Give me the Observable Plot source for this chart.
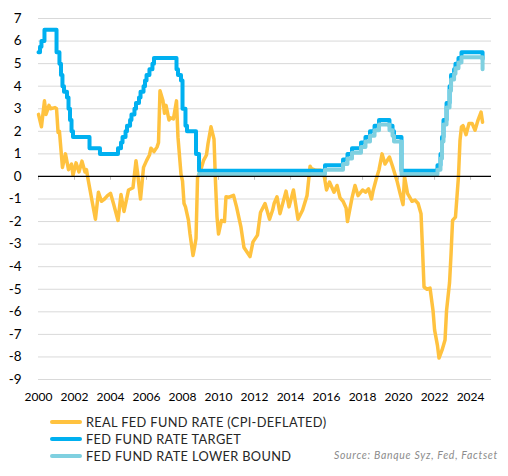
<!DOCTYPE html>
<html>
<head>
<meta charset="utf-8">
<script src="https://cdn.jsdelivr.net/npm/d3@7"></script>
<script src="https://cdn.jsdelivr.net/npm/@observablehq/plot@0.6"></script>
<style>
  html, body { margin: 0; padding: 0; background: #fff; }
  #wrap { position: relative; width: 508px; height: 476px; font-family: Lato, "Open Sans", sans-serif; }
  .leg { position: absolute; left: 50px; height: 16px; display: flex; align-items: center; font-size: 12.8px; letter-spacing: 0.35px; color: #262626; white-space: nowrap; }
  .leg .sw { width: 32px; height: 4px; border-radius: 2px; margin-right: 4px; }
  #src { position: absolute; right: 10px; top: 449px; font-size: 10.5px; letter-spacing: 0.7px; font-style: italic; color: #8c8c8c; white-space: nowrap; }
</style>
</head>
<body>
<div id="wrap"></div>
<script>
// ---- data ----
const realRate = [
  ["2000-01",2.75],["2000-03",2.2],["2000-05",3.35],["2000-06",2.75],["2000-08",3.15],["2000-09",3.0],["2000-12",3.05],
  ["2001-01",3.0],["2001-02",1.95],["2001-03",2.0],["2001-05",0.4],["2001-07",1.0],["2001-09",0.3],["2001-11",0.55],["2001-12",0.05],
  ["2002-02",0.6],["2002-04",0.2],["2002-06",0.68],["2002-08",0.2],["2002-09",0.3],["2002-10",-0.1],
  ["2003-01",-1.2],["2003-03",-1.9],["2003-05",-0.7],["2003-07",-1.1],["2003-09",-1.0],["2003-11",-0.85],
  ["2004-01",-0.75],["2004-03",-1.2],["2004-06",-1.95],["2004-08",-0.8],["2004-10",-1.55],
  ["2005-01",-0.6],["2005-04",-0.5],["2005-06",0.7],["2005-07",0.2],["2005-09",-1.0],["2005-11",0.4],
  ["2006-01",0.7],["2006-03",0.95],["2006-04",1.25],["2006-06",1.1],["2006-08",1.3],["2006-09",1.5],["2006-10",3.8],["2006-12",3.35],
  ["2007-01",2.8],["2007-02",3.15],["2007-04",2.5],["2007-05",2.6],["2007-07",2.55],["2007-09",3.35],["2007-10",1.74],["2007-12",0.1],
  ["2008-01",-0.2],["2008-02",-1.2],["2008-03",-1.35],["2008-05",-1.95],["2008-06",-2.55],["2008-08",-3.5],["2008-09",-3.15],["2008-10",-2.75],["2008-11",-0.05],
  ["2009-01",0.25],["2009-03",0.7],["2009-05",0.95],["2009-06",1.45],["2009-08",2.2],["2009-10",1.65],["2009-11",-0.3],["2009-12",-1.8],
  ["2010-01",-2.55],["2010-03",-1.95],["2010-05",-2.0],["2010-06",-0.9],["2010-08",-0.92],["2010-11",-0.84],
  ["2011-01",-1.35],["2011-04",-2.25],["2011-06",-3.15],["2011-08",-3.35],["2011-10",-3.55],["2011-12",-2.9],
  ["2012-03",-2.6],["2012-05",-1.6],["2012-08",-1.2],["2012-11",-1.9],
  ["2013-01",-1.5],["2013-02",-1.2],["2013-04",-0.9],["2013-06",-1.65],["2013-10",-0.65],["2013-12",-1.35],
  ["2014-03",-0.6],["2014-06",-1.9],["2014-09",-1.5],["2014-12",-0.85],
  ["2015-01",-0.2],["2015-02",0.45],["2015-03",0.35],["2015-06",0.27],["2015-09",0.27],["2015-11",0.2],
  ["2016-01",-0.6],["2016-03",-0.25],["2016-06",-0.7],["2016-08",-0.4],["2016-10",-0.95],["2016-12",-1.1],
  ["2017-02",-1.4],["2017-03",-2.0],["2017-06",-0.95],["2017-08",-0.4],["2017-10",-0.85],
  ["2018-01",-0.6],["2018-03",-0.7],["2018-05",-0.55],["2018-07",-1.0],["2018-08",-0.65],["2018-10",-0.15],["2018-12",0.3],
  ["2019-02",1.0],["2019-04",0.55],["2019-07",0.86],["2019-09",0.45],["2019-12",-0.2],
  ["2020-02",-0.75],["2020-04",-1.25],["2020-05",0.0],["2020-07",-0.75],["2020-10",-1.1],["2020-12",-1.05],
  ["2021-02",-1.2],["2021-04",-1.65],["2021-05",-3.2],["2021-06",-4.9],["2021-08",-5.0],["2021-10",-4.95],["2021-12",-5.95],
  ["2022-01",-6.8],["2022-03",-7.5],["2022-04",-8.05],["2022-06",-7.7],["2022-08",-7.25],["2022-09",-5.95],["2022-11",-4.7],["2022-12",-3.45],
  ["2023-01",-1.95],["2023-03",-1.8],["2023-05",0.0],["2023-06",1.6],["2023-07",2.2],["2023-08",2.25],["2023-10",1.85],["2023-12",2.35],
  ["2024-02",2.35],["2024-04",2.05],["2024-06",2.5],["2024-08",2.85],["2024-09",2.4]
];
const targetRate = [
  ["2000-01",5.5],["2000-02",5.75],["2000-03",6.0],["2000-05",6.5],
  ["2001-01",5.5],["2001-03",5.0],["2001-04",4.5],["2001-05",4.0],["2001-06",3.75],["2001-08",3.5],["2001-09",3.0],["2001-10",2.5],["2001-11",2.0],["2001-12",1.75],
  ["2002-11",1.25],["2003-06",1.0],
  ["2004-06",1.25],["2004-08",1.5],["2004-09",1.75],["2004-11",2.0],["2004-12",2.25],
  ["2005-02",2.5],["2005-03",2.75],["2005-05",3.0],["2005-06",3.25],["2005-08",3.5],["2005-09",3.75],["2005-11",4.0],["2005-12",4.25],
  ["2006-01",4.5],["2006-03",4.75],["2006-05",5.0],["2006-06",5.25],
  ["2007-09",4.75],["2007-10",4.5],["2007-12",4.25],
  ["2008-01",3.0],["2008-03",2.25],["2008-04",2.0],["2008-10",1.0],["2008-12",0.25],
  ["2015-12",0.5],["2016-12",0.75],["2017-03",1.0],["2017-06",1.25],["2017-12",1.5],
  ["2018-03",1.75],["2018-06",2.0],["2018-09",2.25],["2018-12",2.5],
  ["2019-07",2.25],["2019-09",2.0],["2019-10",1.75],["2020-03",0.25],
  ["2022-03",0.5],["2022-05",1.0],["2022-06",1.75],["2022-07",2.5],["2022-09",3.25],["2022-11",4.0],["2022-12",4.5],
  ["2023-02",4.75],["2023-03",5.0],["2023-05",5.25],["2023-07",5.5],["2024-09",5.2]
];
const lowerBound = [
  ["2008-12",0.1],
  ["2015-12",0.3],["2016-12",0.55],["2017-03",0.8],["2017-06",1.05],["2017-12",1.3],
  ["2018-03",1.55],["2018-06",1.8],["2018-09",2.05],["2018-12",2.3],
  ["2019-07",2.05],["2019-09",1.8],["2019-10",1.55],["2020-03",0.1],
  ["2022-03",0.3],["2022-05",0.8],["2022-06",1.55],["2022-07",2.3],["2022-09",3.05],["2022-11",3.8],["2022-12",4.3],
  ["2023-02",4.55],["2023-03",4.8],["2023-05",5.05],["2023-07",5.28],["2024-09",4.75]
];
const yTicks = [-9,-8,-7,-6,-5,-4,-3,-2,-1,0,1,2,3,4,5,6,7];
const xTickYears = [2000,2002,2004,2006,2008,2010,2012,2014,2016,2018,2020,2022,2024];
const seriesNames = ["REAL FED FUND RATE (CPI-DEFLATED)", "FED FUND RATE TARGET", "FED FUND RATE LOWER BOUND"];
const seriesColors = ["#FFC23F", "#00B0F0", "#7FD0E0"];

// ---- build ----
const parse = d3.utcParse("%Y-%m");
const toRows = arr => arr.map(([d, v]) => ({date: parse(d), value: v}));
const real = toRows(realRate), target = toRows(targetRate), lower = toRows(lowerBound);
const xTicks = xTickYears.map(y => new Date(Date.UTC(y, 0, 1)));

const chart = Plot.plot({
  width: 508,
  height: 410,
  marginLeft: 38,
  marginRight: 17,
  marginTop: 18,
  marginBottom: 31,
  style: {fontFamily: "Lato, 'Open Sans', sans-serif", background: "white"},
  x: {type: "utc", domain: [new Date(Date.UTC(2000,0,1)), new Date(Date.UTC(2025,2,1))]},
  y: {domain: [-9, 7]},
  marks: [
    Plot.gridY(yTicks, {stroke: "#d9d9d9", strokeOpacity: 1, strokeWidth: 1}),
    Plot.ruleX(xTicks, {y1: 0, y2: -0.17, stroke: "#bfbfbf", strokeWidth: 1}),
    Plot.axisY({ticks: yTicks, tickSize: 0, tickPadding: 17, fontSize: 13.5, fill: "#000", tickFormat: d => String(d), label: null}),
    Plot.axisX({ticks: xTicks, tickSize: 0, tickPadding: 13, fontSize: 12, fill: "#000", tickFormat: d3.utcFormat("%Y"), label: null}),
    Plot.line(real, {x: "date", y: "value", stroke: seriesColors[0], strokeWidth: 3.5, strokeLinejoin: "round"}),
    Plot.line(target, {x: "date", y: "value", stroke: seriesColors[1], strokeWidth: 4, curve: "step-after", strokeLinejoin: "round"}),
    Plot.line(lower, {x: "date", y: "value", stroke: seriesColors[2], strokeWidth: 4, curve: "step-after", strokeLinejoin: "round"}),
    Plot.ruleY([0], {stroke: "#000", strokeWidth: 1.3})
  ]
});

const wrap = document.getElementById("wrap");
wrap.appendChild(chart);
const legendTops = [414, 431, 448];
seriesNames.forEach((name, i) => {
  const row = document.createElement("div");
  row.className = "leg";
  row.style.top = legendTops[i] + "px";
  const sw = document.createElement("span");
  sw.className = "sw";
  sw.style.background = seriesColors[i];
  const tx = document.createElement("span");
  tx.textContent = name;
  row.appendChild(sw); row.appendChild(tx);
  wrap.appendChild(row);
});
const src = document.createElement("div");
src.id = "src";
src.textContent = "Source: Banque Syz, Fed, Factset";
wrap.appendChild(src);
</script>
</body>
</html>
